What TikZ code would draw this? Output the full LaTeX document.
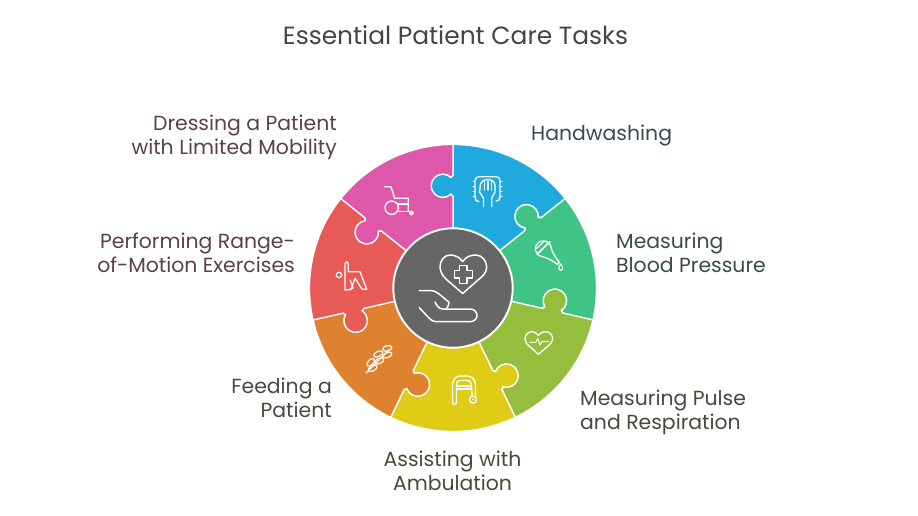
\documentclass[tikz,border=0pt]{standalone}
\usepackage{fontspec}
\setmainfont{Poppins}
\usepackage{tikz}
\usetikzlibrary{calc}
\definecolor{segblue}{HTML}{1FA9DC}
\definecolor{seggreen}{HTML}{3FC485}
\definecolor{segolive}{HTML}{94BE3C}
\definecolor{segyellow}{HTML}{E0CC16}
\definecolor{segorange}{HTML}{DF8230}
\definecolor{segred}{HTML}{E85A56}
\definecolor{segpink}{HTML}{DE57A8}
\definecolor{hubgray}{HTML}{666666}
\tikzset{
	seg/.style={draw=white, line width=1.3pt, line join=round},
	icon/.style={draw=white, line width=1.3pt, line cap=round, line join=round},
	lbl/.style={inner sep=0pt, font=\fontsize{20.4}{24}\selectfont},
}
\newcommand{\tabdown}[1]{-- ([rotate=-#1]0,112.4) .. controls ([rotate=-#1]-1,112.6) and ([rotate=-#1]-1.6,111.5) .. ([rotate=-#1]-1.9,110.5) arc[start angle=45-#1, end angle=315-#1, radius=11.7pt] .. controls ([rotate=-#1]-1.6,92.9) and ([rotate=-#1]-1,91.8) .. ([rotate=-#1]0,92) -- ([rotate=-#1]0,60)}
\newcommand{\tabup}[1]{-- ([rotate=-#1]0,92) .. controls ([rotate=-#1]-1,91.8) and ([rotate=-#1]-1.6,92.9) .. ([rotate=-#1]-1.9,93.9) arc[start angle=315-#1, end angle=45-#1, radius=11.7pt] .. controls ([rotate=-#1]-1.6,111.5) and ([rotate=-#1]-1,112.6) .. ([rotate=-#1]0,112.4) -- ([rotate=-#1]0,143)}
\begin{document}
\begin{tikzpicture}[x=1pt, y=-1pt]
	\useasboundingbox (0,0) rectangle (918,516);
	\begin{scope}[shift={(453,288)}, y=1pt]
		\foreach \k/\col in {0/segblue, 1/seggreen, 2/segolive, 3/segyellow, 4/segorange, 5/segred, 6/segpink} {
			\pgfmathsetmacro{\a}{\k*360/7}
			\pgfmathsetmacro{\b}{(\k+1)*360/7}
			\path[seg, fill=\col] ([rotate=-\a]0,143.5) arc[start angle=90-\a, end angle=90-\b, radius=143.5pt]
				\tabdown{\b} arc[start angle=90-\b, end angle=90-\a, radius=60pt] \tabup{\a} -- cycle;
		}
		\node[circle, draw=white, line width=1.5pt, fill=hubgray, minimum size=119pt, inner sep=0pt] (hub) at (0,0) {};
	\end{scope}

	\node[lbl, font=\fontsize{24.9}{28}\selectfont, text=black!73, anchor=base] (title) at (455.5,44.5) {Essential Patient Care Tasks};
	\node[lbl, text={rgb,255:red,58;green,74;blue,82}, anchor=base west] (wash) at (531,140) {Handwashing};
	\node[lbl, align=left, text={rgb,255:red,58;green,74;blue,72}, anchor=north west] (blood) at (616,233) {Measuring\\Blood Pressure};
	\node[lbl, align=left, text={rgb,255:red,70;green,74;blue,60}, anchor=north west] (pulse) at (580,390) {Measuring Pulse\\and Respiration};
	\node[lbl, align=center, text={rgb,255:red,74;green,72;blue,56}, anchor=north] (walk) at (452.5,451) {Assisting with\\Ambulation};
	\node[lbl, align=right, text={rgb,255:red,79;green,70;blue,64}, anchor=north east] (feed) at (332,378) {Feeding a\\Patient};
	\node[lbl, align=right, text={rgb,255:red,90;green,64;blue,72}, anchor=north east] (range) at (295,233) {Performing Range-\\of-Motion Exercises};
	\node[lbl, align=right, text={rgb,255:red,90;green,63;blue,80}, anchor=north east] (dress) at (337,115) {Dressing a Patient\\with Limited Mobility};

	% hub
	\draw[icon, line width=1.5pt] (462.7,261.5) .. controls (459,256.5) and (454,255) .. (450,255) .. controls (444,255) and (440,261) .. (440,267) .. controls (440,273) and (444,277) .. (447,280) -- (462.7,293.5) -- (478,280) .. controls (482,277) and (486.7,273) .. (486.7,267) .. controls (486.7,261) and (482,255) .. (476,255) .. controls (471,255) and (466,256.5) .. (462.7,261.5) -- cycle;
	\draw[icon, line width=1.5pt] (459.5,265.5) -- (467,265.5) -- (467,270.5) -- (472.3,270.5) -- (472.3,278) -- (467,278) -- (467,283.3) -- (459.5,283.3) -- (459.5,278) -- (454.3,278) -- (454.3,270.5) -- (459.5,270.5) -- cycle;
	\draw[icon, line width=1.5pt] (419.3,290.5) -- (431,290.5) .. controls (438,291) and (444,299) .. (449,302) .. controls (449,305) and (448,307) .. (446,309);
	\draw[icon, line width=1.5pt] (435,302) .. controls (437,306) and (439,309) .. (443,309) -- (470,309) .. controls (474,309) and (477,312) .. (477,315.5) .. controls (477,319) and (474,321.7) .. (470,321.7) -- (436,321.7) .. controls (433,321.7) and (431,320) .. (429,318) -- (419.3,307.7);

	% handwashing
	\draw[icon] (479,201.7) .. controls (476.5,201.7) and (475,200) .. (475,197) -- (475,181) .. controls (475,178) and (476.5,176.7) .. (479,176.7) -- (496,176.7) .. controls (498.5,176.7) and (500,178) .. (500,181) -- (500,197) .. controls (500,200) and (498.5,201) .. (496,201);
	\foreach \y in {181,186,191,196} {
		\draw[icon, line width=1pt] (473,\y) -- (475,\y);
		\draw[icon, line width=1pt] (500,\y) -- (502,\y);
	}
	\draw[icon] (483.5,206.5) -- (483.5,198) -- (479.5,192) -- (480.5,184) .. controls (481,181) and (484,179.5) .. (488,179.5) .. controls (492,179.5) and (495,182) .. (495,186) -- (495,192) -- (491.7,198) -- (491.7,206.5);
	\foreach \x in {484.5,488,491.5}
		\draw[icon, line width=1.1pt] (\x,181) -- (\x,190);

	% dropper
	\draw[icon] (537.3,254.3) .. controls (533,249) and (536,241) .. (543.5,241) .. controls (548,241) and (551,244) .. (551.5,249) .. controls (552,252) and (556,258) .. (559.3,262.3) -- (557.3,264.3) .. controls (552,260) and (546,257.5) .. (542,256.5) .. controls (540,256) and (538.5,255.5) .. (537.3,254.3) -- (550,241.7);
	\draw[icon, line width=1pt] (536.5,248.5) -- (544,241.5) (539,252) -- (548,243);
	\draw[icon, line width=1.1pt] (560.7,263.8) .. controls (558.4,266.5) and (558.2,270.3) .. (560.7,270.3) .. controls (563.2,270.3) and (563,266.5) .. (560.7,263.8) -- cycle;

	% pulse
	\draw[icon] (538.3,335.5) .. controls (536,332.5) and (534,331.7) .. (531.7,331.7) .. controls (528,331.7) and (525,335) .. (525,339) .. controls (525,342) and (527,344) .. (529,346) -- (538.3,354.3) -- (548,346) .. controls (550,344) and (552.7,342) .. (552.7,339) .. controls (552.7,335) and (549.5,331.7) .. (546,331.7) .. controls (543,331.7) and (540.5,332.5) .. (538.3,335.5) -- cycle;
	\draw[icon, line width=1pt] (530,342.3) -- (536,342.3) -- (537.7,338.3) -- (540,345) -- (541.7,341.7) -- (548.7,341.7);

	% walker
	\draw[icon] (452.5,402) .. controls (452.5,405.5) and (456.5,405.5) .. (456.5,402) -- (456.5,385) .. controls (456.5,382) and (457.5,381) .. (459,380.5) -- (468,380.5) .. controls (470,381) and (471,382) .. (471.5,385) -- (472,395);
	\draw[icon] (452.5,402) -- (452.5,385) .. controls (452.5,379.5) and (456,376) .. (460.5,376) -- (467,376) .. controls (472,376) and (475.5,380) .. (475.5,385) -- (475.5,395);
	\draw[icon, line width=1.1pt] (456.5,386) -- (471.5,386) (456.5,389) -- (471.5,389);
	\draw[icon] (473,399.5) circle[radius=3.6pt];
	\fill[white] (473,399.5) circle[radius=1.1pt];

	% feeding
	\draw[icon] (366,373) -- (390,349);
	\foreach \x/\y/\r in {387.3/348.3/15, 378.3/354/25, 370.7/362.3/45, 387.3/355/20, 379.3/361/25, 372.7/368.3/30}
		\draw[icon, line width=1.2pt, rotate around={\r:(\x,\y)}] (\x,\y) ellipse[x radius=4.8pt, y radius=2.6pt];

	% exercises
	\draw[icon] (339,275) circle[radius=2.7pt];
	\draw[icon] (345,290) -- (345,263.5) .. controls (345,261.2) and (348.3,261.2) .. (348.3,263.5) -- (348.3,271.7) -- (360,271.7) -- (366.7,289.3) -- (362,289.3) -- (355,278.3) -- (351,289.5) -- (345,290);
	\draw[icon, line width=1pt] (350,280) -- (353.3,288) -- (350,289);

	% wheelchair
	\draw[icon] (384.3,186.7) -- (390.7,186.7) .. controls (392.5,190) and (393.5,195) .. (394.5,198.3) -- (408.3,198.3) -- (408.3,211);
	\draw[icon] (391.7,207.7) circle[radius=6.7pt];
	\draw[icon] (398.3,204) -- (408.3,204) (399,211.5) -- (409,211.5);
	\draw[icon] (411.5,213) circle[radius=1.9pt];
\end{tikzpicture}
\end{document}
